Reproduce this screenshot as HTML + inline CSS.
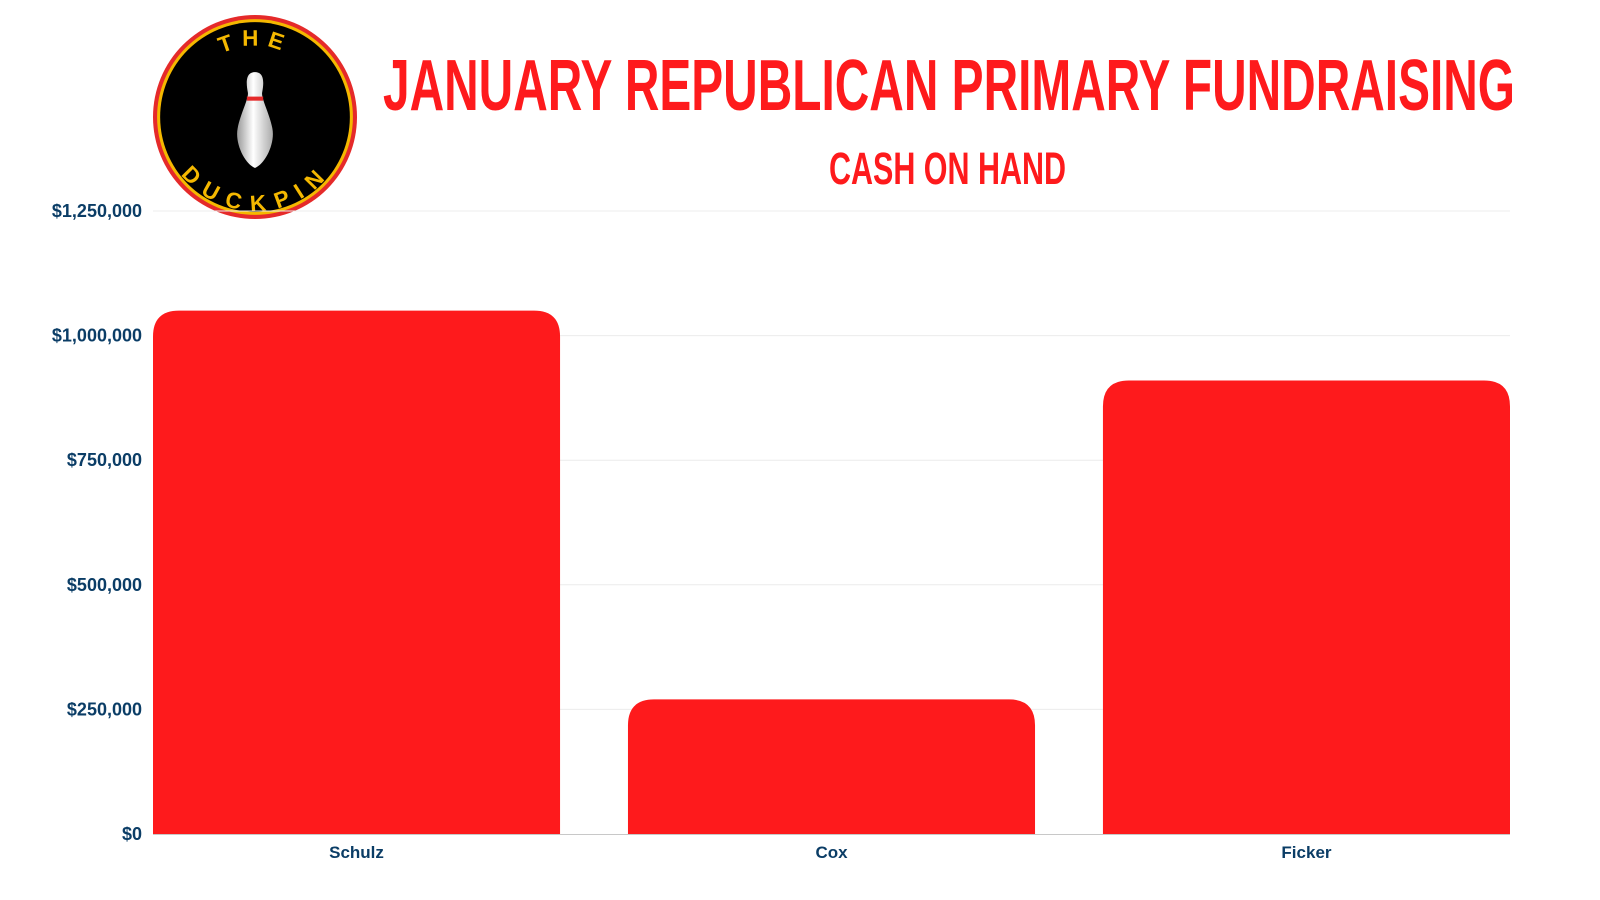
<!DOCTYPE html>
<html><head><meta charset="utf-8"><style>
html,body{margin:0;padding:0;background:#fff;}
svg{display:block;}
text{font-family:"Liberation Sans",sans-serif;}
</style></head><body>
<svg id="chart" width="1600" height="900" viewBox="0 0 1600 900" xmlns="http://www.w3.org/2000/svg">
  <g transform="translate(255,117) scale(1.02)">
    <circle cx="0" cy="0" r="100" fill="#e52a2a"/>
    <circle cx="0" cy="0" r="96" fill="#f5b800"/>
    <circle cx="0" cy="0" r="93" fill="#000"/>
    <defs>
      <path id="arcTop" d="M-70,0 A70,70 0 0 1 70,0"/>
      <path id="arcBot" d="M-76,0 A76,76 0 0 0 76,0"/>
      <linearGradient id="pinG" x1="0" x2="1"><stop offset="0" stop-color="#999"/><stop offset="0.45" stop-color="#fff"/><stop offset="1" stop-color="#aaa"/></linearGradient>
    </defs>
    <text font-size="22" font-weight="bold" fill="#f5b800" letter-spacing="8" text-anchor="middle"><textPath href="#arcTop" startOffset="50%">THE</textPath></text>
    <text font-size="22" font-weight="bold" fill="#f5b800" letter-spacing="6" text-anchor="middle" dy="16"><textPath href="#arcBot" startOffset="50%">DUCKPIN</textPath></text>
    <path d="M0,-44 C-9,-44 -9,-34 -7,-24 C-6,-18 -14,-4 -17,11 C-20,26 -10,46 0,50 C10,46 20,26 17,11 C14,-4 6,-18 7,-24 C9,-34 9,-44 0,-44Z" fill="url(#pinG)"/>
    <rect x="-8" y="-20" width="16" height="4" fill="#e52a2a"/>
  </g>
  <text x="383" y="110" font-weight="bold" font-size="72" fill="#fe1a1c" textLength="1132" lengthAdjust="spacingAndGlyphs" style="font-family:'Liberation Sans Narrow','Liberation Sans',sans-serif">JANUARY REPUBLICAN PRIMARY FUNDRAISING</text>
  <text x="829" y="184" font-weight="bold" font-size="45" fill="#fe1a1c" textLength="237" lengthAdjust="spacingAndGlyphs" style="font-family:'Liberation Sans Narrow','Liberation Sans',sans-serif">CASH ON HAND</text>
  <g id="grid"></g>
  <g id="bars"></g>
  <g id="labels"></g>
</svg>
<script>
const categories = ["Schulz", "Cox", "Ficker"];
const values = [1050000, 270000, 910000];
const yTicks = [0, 250000, 500000, 750000, 1000000, 1250000];
const yTickLabels = ["$0", "$250,000", "$500,000", "$750,000", "$1,000,000", "$1,250,000"];

const NS = "http://www.w3.org/2000/svg";
const x0 = 153, x1 = 1510, yBase = 834, yTop = 211, yMax = 1250000;
function yScale(v){ return yBase - (v / yMax) * (yBase - yTop); }
const pad = 0.143;
const step = (x1 - x0) / (categories.length - pad);
function barX(i){ return x0 + i * step; }
function barW(){ return step * (1 - pad); }

const grid = document.getElementById('grid');
const bars = document.getElementById('bars');
const labels = document.getElementById('labels');

yTicks.forEach((t, i) => {
  const y = yScale(t);
  if (t > 0) {
    const l = document.createElementNS(NS, 'line');
    
    
    l.setAttribute('x1', x0); l.setAttribute('x2', x1);
    l.setAttribute('y1', y); l.setAttribute('y2', y);
    l.setAttribute('stroke', '#ececec'); l.setAttribute('stroke-width', '1');
    grid.appendChild(l);
  }
  const tx = document.createElementNS(NS, 'text');
  
  
  tx.setAttribute('x', 142); tx.setAttribute('y', y + 6);
  tx.setAttribute('text-anchor', 'end');
  tx.setAttribute('font-size', '18'); tx.setAttribute('font-weight', 'bold');
  tx.setAttribute('fill', '#0b3d66');
  tx.textContent = yTickLabels[i];
  labels.appendChild(tx);
});

const r = 26;
categories.forEach((c, i) => {
  const x = barX(i), w = barW(), y = yScale(values[i]);
  const rr = Math.min(r, (yBase - y));
  const p = document.createElementNS(NS, 'path');
  
  
  p.setAttribute('d', `M${x},${yBase} L${x},${y+rr} Q${x},${y} ${x+rr},${y} L${x+w-rr},${y} Q${x+w},${y} ${x+w},${y+rr} L${x+w},${yBase} Z`);
  p.setAttribute('fill', '#fe1a1c');
  bars.appendChild(p);
  const t = document.createElementNS(NS, 'text');
  
  
  t.setAttribute('x', x + w / 2); t.setAttribute('y', 858);
  t.setAttribute('text-anchor', 'middle');
  t.setAttribute('font-size', '17'); t.setAttribute('font-weight', 'bold');
  t.setAttribute('fill', '#0b3d66');
  t.textContent = c;
  labels.appendChild(t);
});
const ax = document.createElementNS(NS, 'line');


ax.setAttribute('x1', x0); ax.setAttribute('x2', x1);
ax.setAttribute('y1', yBase + 0.5); ax.setAttribute('y2', yBase + 0.5);
ax.setAttribute('stroke', '#c8c8c8');
labels.appendChild(ax);
</script>
</body></html>
